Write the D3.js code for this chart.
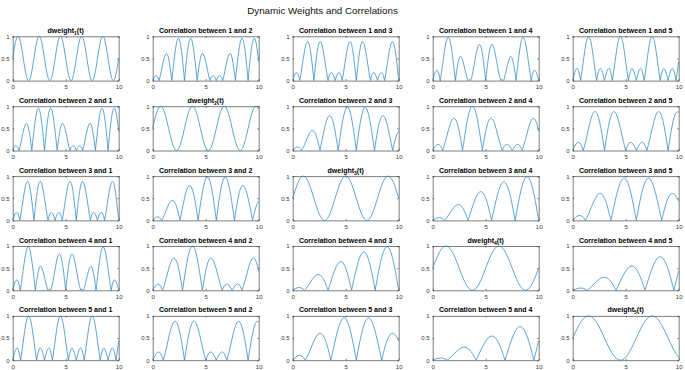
<!DOCTYPE html>
<html>
<head>
<meta charset="utf-8">
<script src="https://cdn.jsdelivr.net/npm/d3@7"></script>
<style>
  body { margin: 0; background: #fff; }
  svg { display: block; font-family: "Liberation Sans", Arial, sans-serif; }
</style>
</head>
<body>
<div id="chart"></div>
<script>
// sample times (step 0.25)
const times = [0,0.25,0.5,0.75,1,1.25,1.5,1.75,2,2.25,2.5,2.75,3,3.25,3.5,3.75,4,4.25,4.5,4.75,5,
  5.25,5.5,5.75,6,6.25,6.5,6.75,7,7.25,7.5,7.75,8,8.25,8.5,8.75,9,9.25,9.5,9.75,10];
const xTicks = [0, 5, 10];
const yTicks = [0, 0.5, 1];

// dweight_i(t)
const dweight1 = [0.5,0.854,1,0.854,0.5,0.146,0,0.146,0.5,0.854,1,0.854,0.5,0.146,0,0.146,
  0.5,0.854,1,0.854,0.5,0.146,0,0.146,0.5,0.854,1,0.854,0.5,0.146,0,0.146,
  0.5,0.854,1,0.854,0.5,0.146,0,0.146,0.5];
const dweight2 = [0.5,0.75,0.933,1,0.933,0.75,0.5,0.25,0.067,0,0.067,0.25,
  0.5,0.75,0.933,1,0.933,0.75,0.5,0.25,0.067,0,0.067,0.25,
  0.5,0.75,0.933,1,0.933,0.75,0.5,0.25,0.067,0,0.067,0.25,
  0.5,0.75,0.933,1,0.933];
const dweight3 = [0.5,0.691,0.854,0.962,1,0.962,0.854,0.691,0.5,0.309,0.146,0.038,0,0.038,0.146,0.309,
  0.5,0.691,0.854,0.962,1,0.962,0.854,0.691,0.5,0.309,0.146,0.038,0,0.038,0.146,0.309,
  0.5,0.691,0.854,0.962,1,0.962,0.854,0.691,0.5];
const dweight4 = [0.5,0.655,0.794,0.905,0.976,1,0.976,0.905,0.794,0.655,0.5,0.345,0.206,0.095,0.024,0,0.024,0.095,0.206,0.345,
  0.5,0.655,0.794,0.905,0.976,1,0.976,0.905,0.794,0.655,0.5,0.345,0.206,0.095,0.024,0,0.024,0.095,0.206,0.345,
  0.5];
const dweight5 = [0.5,0.629,0.75,0.854,0.933,0.983,1,0.983,0.933,0.854,0.75,0.629,0.5,0.371,0.25,0.146,0.067,0.017,0,0.017,0.067,0.146,0.25,0.371,
  0.5,0.629,0.75,0.854,0.933,0.983,1,0.983,0.933,0.854,0.75,0.629,0.5,0.371,0.25,0.146,0.067];

// correlations (same curve for i-j and j-i), plus the t where the curve touches 0 between samples
const corr12 = [0,0.104,0.067,0.146,0.433,0.604,0.5,0.104,0.433,0.854,0.933,0.604,0,0.604,0.933,0.854,0.433,0.104,0.5,0.604,
  0.433,0.146,0.067,0.104,0,0.104,0.067,0.146,0.433,0.604,0.5,0.104,0.433,0.854,0.933,0.604,0,0.604,0.933,0.854,0.433];
const zeros12 = [0.6,1.8,4.2,5.4,6.6,7.8];
const corr13 = [0,0.162,0.146,0.108,0.5,0.815,0.854,0.545,0,0.545,0.854,0.815,0.5,0.108,0.146,0.162,0,0.162,0.146,0.108,
  0.5,0.815,0.854,0.545,0,0.545,0.854,0.815,0.5,0.108,0.146,0.162,0,0.162,0.146,0.108,0.5,0.815,0.854,0.545,0];
const zeros13 = [0.667,3.333,4.667,7.333,8.667];
const corr14 = [0,0.199,0.206,0.051,0.476,0.854,0.976,0.758,0.294,0.199,0.5,0.508,0.294,0.051,0.025,0.146,0.476,0.758,0.794,0.508,
  0,0.508,0.794,0.758,0.476,0.146,0.025,0.051,0.294,0.508,0.5,0.199,0.294,0.758,0.976,0.854,0.476,0.051,0.206,0.199,0];
const zeros14 = [0.714,2.143,3.333,3.571,6.429,6.667,7.857,9.286];
const corr15 = [0,0.224,0.25,0,0.433,0.837,1,0.837,0.433,0,0.25,0.224,0,0.224,0.25,0,0.433,0.837,1,0.837,
  0.433,0,0.25,0.224,0,0.224,0.25,0,0.433,0.837,1,0.837,0.433,0,0.25,0.224,0,0.224,0.25,0,0.433];
const zeros15 = [];
const corr23 = [0,0.059,0.08,0.038,0.067,0.212,0.354,0.442,0.433,0.309,0.08,0.212,0.5,0.712,0.787,0.692,0.433,0.059,0.354,0.712,
  0.933,0.962,0.787,0.442,0,0.442,0.787,0.962,0.933,0.712,0.354,0.059,0.433,0.692,0.787,0.712,0.5,0.212,0.08,0.309,0.433];
const zeros23 = [0.857,2.571,4.286,7.714,9.429];
const corr24 = [0,0.096,0.139,0.096,0.043,0.25,0.476,0.655,0.727,0.655,0.433,0.096,0.294,0.655,0.909,1,0.909,0.655,0.294,0.096,
  0.433,0.655,0.727,0.655,0.476,0.25,0.043,0.096,0.139,0.096,0,0.096,0.139,0.096,0.043,0.25,0.476,0.655,0.727,0.655,0.433];
const zeros24 = [0.9375,2.8125,4.6875,6.5625,8.4375];
const corr25 = [0,0.121,0.183,0.146,0,0.233,0.5,0.733,0.866,0.854,0.683,0.38,0,0.38,0.683,0.854,0.866,0.733,0.5,0.233,
  0,0.146,0.183,0.121,0,0.121,0.183,0.146,0,0.233,0.5,0.733,0.866,0.854,0.683,0.38,0,0.38,0.683,0.854,0.866];
const zeros25 = [];
const corr34 = [0,0.037,0.06,0.058,0.025,0.038,0.122,0.213,0.294,0.346,0.354,0.308,0.206,0.058,0.122,0.309,0.476,0.596,0.648,0.617,
  0.5,0.308,0.06,0.213,0.476,0.692,0.829,0.867,0.794,0.617,0.354,0.037,0.294,0.596,0.829,0.962,0.976,0.867,0.648,0.346,0];
const zeros34 = [1.111,3.333,5.556,7.778];
const corr35 = [0,0.062,0.104,0.108,0.067,0.021,0.146,0.292,0.433,0.545,0.604,0.592,0.5,0.333,0.104,0.162,0.433,0.675,0.854,0.945,
  0.933,0.815,0.604,0.321,0,0.321,0.604,0.815,0.933,0.945,0.854,0.675,0.433,0.162,0.104,0.333,0.5,0.592,0.604,0.545,0.433];
const zeros35 = [1.2,3.6,8.4];
const corr45 = [0,0.025,0.044,0.051,0.043,0.017,0.025,0.079,0.139,0.199,0.25,0.284,0.294,0.275,0.226,0.147,0.043,0.079,0.206,0.329,
  0.433,0.508,0.544,0.534,0.476,0.371,0.226,0.051,0.139,0.329,0.5,0.638,0.727,0.758,0.726,0.63,0.476,0.275,0.044,0.199,0.433];
const zeros45 = [1.364,4.091,6.818,9.545];

const weights = [dweight1, dweight2, dweight3, dweight4, dweight5];
const corrTable = {
  "12": [corr12, zeros12], "13": [corr13, zeros13], "14": [corr14, zeros14], "15": [corr15, zeros15],
  "23": [corr23, zeros23], "24": [corr24, zeros24], "25": [corr25, zeros25],
  "34": [corr34, zeros34], "35": [corr35, zeros35], "45": [corr45, zeros45]
};

const W = 685, H = 370;
const pw = 106, ph = 44.3;
const colLeft = c => 12.7 + 140 * c;
const rowTop = r => 36.3 + 69.9 * r;

const svg = d3.select("#chart").append("svg")
  .attr("width", W).attr("height", H);

svg.append("text")
  .attr("x", 322.5).attr("y", 13.5)
  .attr("text-anchor", "middle")
  .style("font-size", "9.8px")
  .style("fill", "#111")
  .text("Dynamic Weights and Correlations");

const x = d3.scaleLinear().domain([0, 10]).range([0, pw]);
const y = d3.scaleLinear().domain([0, 1]).range([ph, 0]);
const line = d3.line().x(d => x(d[0])).y(d => y(d[1])).curve(d3.curveNatural);

// cut a |.| curve at its zeros so each hump is smoothed on its own
function humps(pts) {
  const segs = [];
  let cur = [pts[0]];
  for (let k = 1; k < pts.length; k++) {
    cur.push(pts[k]);
    if (pts[k][1] === 0 && k < pts.length - 1) { segs.push(cur); cur = [pts[k]]; }
  }
  if (cur.length > 1) segs.push(cur);
  return segs;
}

for (let r = 0; r < 5; r++) {
  for (let c = 0; c < 5; c++) {
    const g = svg.append("g")
      .attr("transform", `translate(${colLeft(c)},${rowTop(r)})`);

    let segs;
    if (r === c) {
      segs = [times.map((t, k) => [t, weights[r][k]])];
    } else {
      const key = `${Math.min(r, c) + 1}${Math.max(r, c) + 1}`;
      const [vals, zeros] = corrTable[key];
      const pts = times.map((t, k) => [t, vals[k]])
        .concat(zeros.map(t => [t, 0]))
        .sort((a, b) => a[0] - b[0]);
      segs = humps(pts);
    }

    // axes (ticks inside, box on)
    g.append("g")
      .attr("transform", `translate(0,${ph})`)
      .call(d3.axisBottom(x).tickValues(xTicks).tickSize(-1.5).tickSizeOuter(0).tickPadding(4.5))
      .call(a => a.selectAll("text").style("font-size", "6px").style("fill", "#333").attr("font-family", null));
    g.append("g")
      .call(d3.axisLeft(y).tickValues(yTicks).tickFormat(d3.format("~g")).tickSize(-1.5).tickSizeOuter(0).tickPadding(3))
      .call(a => a.selectAll("text").style("font-size", "6px").style("fill", "#333").attr("font-family", null));
    g.append("g")
      .call(d3.axisTop(x).tickValues(xTicks).tickSize(-1.5).tickSizeOuter(0).tickFormat(""));
    g.append("g")
      .attr("transform", `translate(${pw},0)`)
      .call(d3.axisRight(y).tickValues(yTicks).tickSize(-1.5).tickSizeOuter(0).tickFormat(""));
    g.selectAll(".domain, .tick line").attr("stroke", "#262626").attr("stroke-width", 0.6);

    g.selectAll("path.curve")
      .data(segs)
      .enter().append("path")
      .attr("class", "curve")
      .attr("d", line)
      .attr("fill", "none")
      .attr("stroke", "#2a86c8")
      .attr("stroke-width", 0.75);

    const title = g.append("text")
      .attr("x", pw / 2).attr("y", -3.5)
      .attr("text-anchor", "middle")
      .style("font-size", "7px")
      .style("font-weight", "bold")
      .style("fill", "#000");
    if (r === c) {
      title.append("tspan").text("dweight");
      title.append("tspan").attr("dy", 2).style("font-size", "5px").text(r + 1);
      title.append("tspan").attr("dy", -2).text("(t)");
    } else {
      title.text(`Correlation between ${r + 1} and ${c + 1}`);
    }
  }
}
</script>
</body>
</html>
